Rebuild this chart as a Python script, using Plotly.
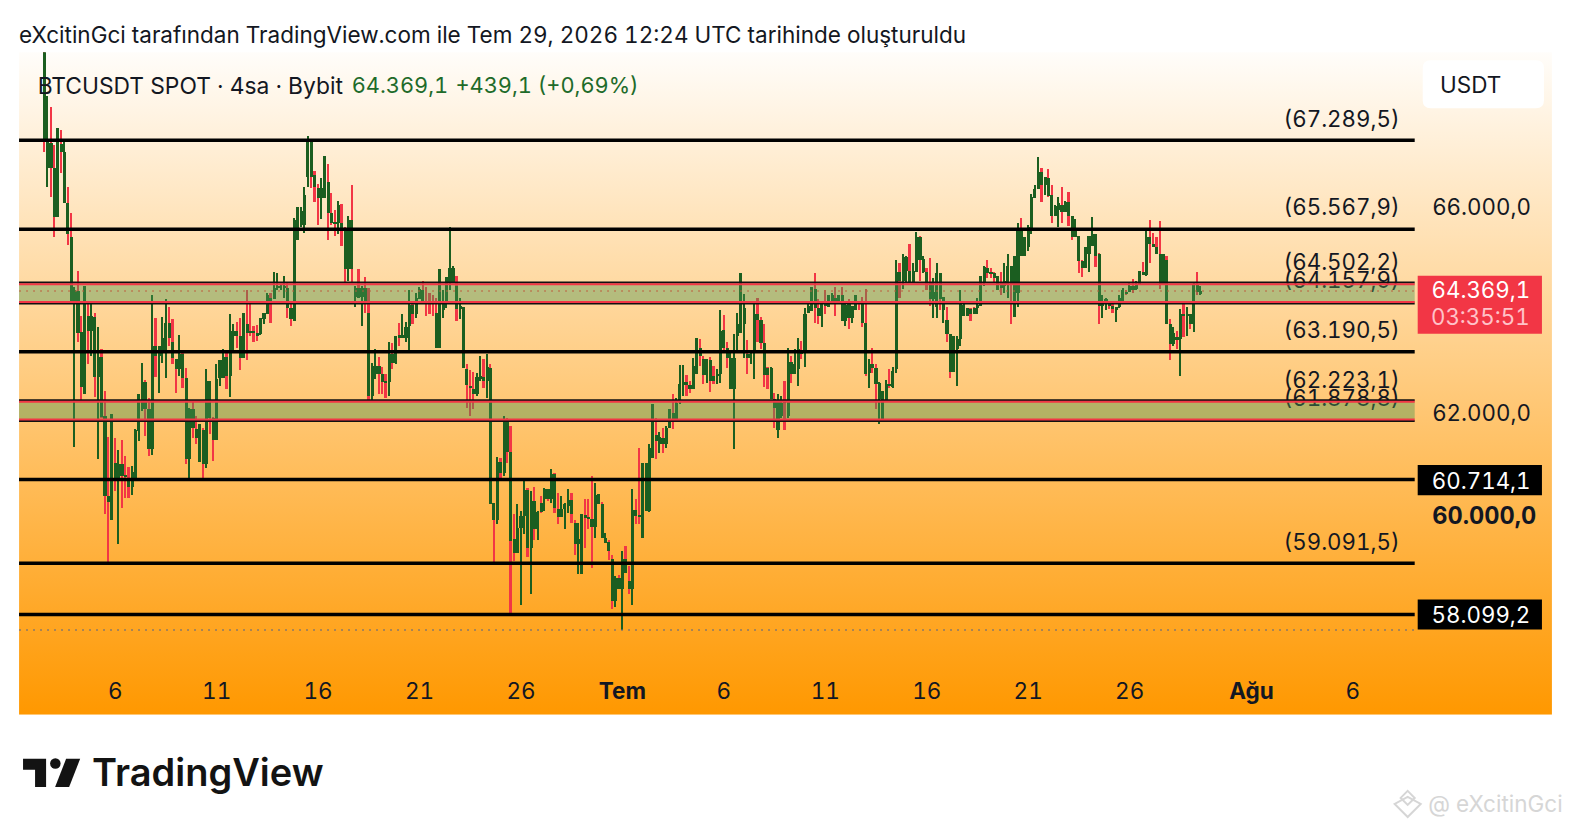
import base64
import pandas as pd
import plotly.graph_objects as go

W, H = 1571, 829

open_ = [69000,66750,67230,66750,65810,67210,66070,66070,65410,64180,64360,63580,62510,63890,63600,63870,62700,63090,61950,60390,
60280,61030,60740,61010,60800,60740,60570,60720,61650,62080,62610,62080,61310,63310,63110,63170,63170,63750,63370,63040,
62860,63150,62690,61110,62080,61690,61520,61670,61010,62630,61910,61480,62690,62690,63090,62720,63500,63600,63500,63070,
63730,63580,63580,63560,63540,63830,63930,64240,64220,64430,64430,64430,64430,64030,63790,65640,65640,65640,66570,67250,
66610,66360,66160,66360,66470,65870,65700,65680,65680,65580,64800,65740,64260,64430,64260,64430,63950,62340,62760,62920,
62760,62630,62610,63150,62980,63520,63460,63460,63680,64100,63930,64220,64380,64180,64180,64180,63950,63270,63990,64180,
64530,64530,64470,64010,62880,62860,62510,62470,62370,62670,62700,62630,62880,60260,59930,61050,60840,61850,61250,59560,
59290,59770,60000,60510,59380,60300,59750,60260,60330,60530,60330,60820,60140,59980,60140,60200,60310,59870,59460,59560,
60020,59970,59950,59790,60240,60240,59480,59500,59170,58350,58800,58600,59170,58740,58600,60120,60020,60000,60100,60100,
61330,61580,61400,61520,61400,61750,62000,61890,62240,62550,62610,62550,62470,62920,63270,63040,62740,63020,62720,62720,
62760,63620,63270,62470,62470,63500,63720,63720,63150,63070,63210,63930,63810,63350,62880,62280,62280,61680,61950,62240,
61950,63000,62760,62860,63230,63230,63950,64030,64410,64030,63890,64140,64180,64180,64240,64180,64280,63790,64120,63850,
64010,64180,64120,63750,62780,62960,62880,62280,62240,62240,62570,62510,62860,64730,64570,64760,64760,64530,64730,65410,
64730,64730,64530,64220,64050,64710,63990,63810,63540,62800,63250,63440,63890,63890,64010,64030,64030,64100,64530,64820,
64730,64710,64470,64550,64470,64510,64860,64320,64320,65560,65050,65210,65580,66160,66340,66670,66420,66550,66220,65830,
65930,66030,65890,66100,65830,65410,65440,64940,64820,65090,65230,65480,65080,64080,64120,64140,64080,63990,64050,64180,
64340,64340,64470,64410,64510,64740,64670,65410,65270,65210,65090,64510,64960,63730,63330,63480,63440,63930,63890,63930,
63730,64510,64300]
high = [69000,68150,67930,67190,67520,67480,67250,66380,65870,64450,64760,63890,64470,64120,64180,63950,63660,63250,62430,61540,
61990,61520,61290,61480,61170,60960,60980,61690,62370,62980,62650,62300,64280,63850,63310,63870,64220,64050,63830,63050,
63520,63210,62880,62100,62260,61950,61790,61710,62860,62630,61930,62960,63020,63250,63230,63930,63730,63770,63850,63950,
64380,64120,63680,63710,63850,63950,64320,64320,64740,64710,64510,64650,64530,64180,65790,65990,65990,66380,67380,67290,
66690,66450,66550,66990,66820,66260,65930,66120,66050,65600,65830,66430,64470,64800,64470,64630,64430,62980,63250,63090,
62900,62760,63380,63360,63500,63750,63930,63770,64380,64120,64320,64450,64570,64450,64320,64280,64240,64800,64380,64630,
65600,64860,64650,64240,64060,62960,62840,62800,62780,63110,63050,63150,62960,60260,61150,61130,61950,61910,61750,60040,
60240,60100,60740,60550,60490,60570,60100,60390,60550,60530,60920,60840,60450,60390,60260,60530,60450,59930,59870,60040,
60330,60330,60780,60640,60430,60280,59670,59540,59250,58840,58860,59320,59420,59030,60530,60330,61330,61030,61030,61400,
62180,61910,61640,61710,61750,62080,62370,62300,62940,62940,62740,62630,63070,63460,63440,63110,63050,63090,62920,62860,
63990,63910,63370,63210,63540,63950,64710,64300,63420,63210,64120,64240,63870,63730,62900,62900,62390,62370,62340,62630,
63270,63110,63250,63460,63400,64030,64180,64450,64710,64220,64180,64380,64280,64320,64450,64280,64450,64120,64220,64080,
64280,64180,64260,64410,63050,63270,62960,62610,62430,62650,62860,62900,64960,64900,65090,65040,65270,64900,65520,65440,
65040,64820,65000,64610,64900,64710,64260,64050,63540,63500,63500,64380,64180,64030,64030,64050,64240,64650,64860,64960,
64820,64730,64650,64730,64900,65090,64860,65040,65680,65790,65420,65640,66240,66420,66960,66750,66570,66730,66420,66030,
66180,66380,66120,66280,65830,65770,65440,64960,65210,65440,65810,65480,65110,64280,64240,64180,64140,64050,64280,64430,
64380,64550,64590,64570,64760,64920,65540,65740,65500,65420,65720,65090,65040,63830,63660,63600,64010,64120,64050,63930,
64550,64730,64470]
low = [67060,66380,66180,65410,65810,66650,66070,65250,64180,61340,63370,62240,62370,62960,63110,62320,61110,61910,60040,59110,
59930,60490,59460,60160,60350,60350,60410,60720,61460,62040,61560,61170,61190,62700,62390,62980,62690,63310,62960,62390,
62720,62490,61010,60740,61520,61400,61050,60740,60940,61600,61070,61480,62530,62690,62470,62320,63210,63270,62840,63070,
63030,63500,63380,63400,63520,63730,63930,63750,64220,64380,64380,64240,63850,63680,63790,65350,65600,65500,66380,66360,
66090,65640,65770,66160,65350,65640,65440,65480,65230,64550,64570,64530,64050,64240,63680,63950,62260,62260,62670,62370,
62370,62300,62340,62860,62960,63310,63460,63370,63210,63720,63850,64220,64180,63890,63930,63890,63270,63270,63850,64030,
64380,64530,63790,63830,62880,62100,61950,62080,62340,62630,62490,62300,60240,59110,59850,60740,60780,61030,58100,59130,
59290,58290,59650,59210,58490,59540,59540,60060,60100,60300,60260,60060,59850,59980,59750,60060,59870,59250,58880,58880,
59380,59750,58990,59580,60240,59580,59480,59150,58200,58240,58600,57790,58900,58490,58290,59850,59850,59580,60100,60080,
61130,61110,61230,61230,61330,61710,61690,61890,62180,62340,62340,62390,62470,62760,62920,62570,62590,62410,62570,62570,
62590,63230,62880,62470,61300,63210,63560,63070,62760,62960,62670,63370,63250,62510,62470,62280,61710,61520,61910,61670,
61910,62590,62760,62530,63050,62900,63950,63970,63750,63730,63660,63930,64060,64140,63890,64120,63790,63680,63640,63750,
63990,63990,63660,62720,62490,62780,62080,61790,61890,62240,62490,62490,62780,64240,64410,64530,64530,64530,64730,64570,
64710,64380,64080,63850,63850,63990,63750,63370,62690,62800,62530,63310,63890,63890,63790,63930,63930,64080,64470,64610,
64610,64530,64380,64280,64320,64240,63730,63870,64060,65040,65050,65150,65480,66160,66340,66090,66220,66180,65680,65830,
65600,65680,65890,65620,65350,65410,64710,64630,64820,64740,65230,64840,63720,63850,63990,64010,63950,63770,64030,64180,
64280,64340,64320,64380,64510,64670,64650,64900,65210,65090,64410,64510,63730,63030,63310,63250,62720,63480,63500,63640,
63580,64280,64280]
close = [67290,67290,66750,65810,67210,67060,67060,65480,64180,64380,63560,62510,63870,63600,63890,62700,63090,61930,60390,60280,
61030,60740,61010,60780,60760,60570,60860,61670,62370,62610,62080,61310,63310,63110,63310,63460,63750,63460,63070,62860,
63150,62690,61110,62080,61710,61520,61690,61010,62630,61910,61480,62670,63020,63090,62720,63600,63600,63500,63070,63730,
63560,63560,63560,63500,63850,63950,64280,64180,64430,64450,64450,64450,64030,63830,65740,65890,65910,66220,67250,66570,
66380,66160,66360,66470,65870,65680,65660,66030,65580,64800,65740,64800,64430,64240,64430,64140,62340,62920,62920,62760,
62610,62590,63150,62980,63500,63460,63520,63660,64100,63930,64240,64410,64180,64140,64140,64120,63270,63990,64180,64630,
64820,64820,64010,64080,64050,62550,62490,62370,62700,62720,62630,62900,60240,59930,61050,60840,61890,61250,59520,59290,
59770,60000,60510,59380,60300,59750,60080,60080,60530,60330,60820,60160,59980,60140,60240,60310,60040,59460,59560,60020,
59970,59950,59790,60410,60410,59580,59580,59320,58350,58800,58600,59170,58900,58600,60120,60000,59980,61030,61030,61330,
61600,61460,61540,61400,61710,61980,61890,62200,62570,62610,62550,62470,62920,63270,63110,62740,63040,62630,62630,62760,
63600,63270,63070,63070,63070,63720,64030,64030,63070,63150,63930,63810,63350,62740,62740,62880,62100,62240,62200,62200,
63000,62760,62960,63250,63150,63930,64080,64410,64030,63890,64120,64080,64240,64280,64180,64280,63790,64100,63850,64080,
64120,64120,63750,62760,62960,62880,62570,62590,62340,62570,62530,62820,64730,64570,65020,65020,64530,64760,65410,64960,
64980,64530,64220,64340,64710,64220,64260,63540,62800,63270,63440,64120,64100,64030,63930,63930,64100,64470,64840,64710,
64710,64610,64610,64430,64570,64860,64510,64860,65560,65040,65230,65600,66180,66340,66670,66420,66570,66200,65830,66010,
66070,65890,66090,65830,65410,65560,64940,64820,65090,65430,65480,65050,64080,64180,64220,64080,64010,64050,64240,64380,
64300,64470,64380,64510,64740,64670,65410,65270,65210,65090,64510,65090,63730,63330,63560,63420,63930,63890,63930,63730,
64510,64340,64369]

first_candle = "2026-06-02 12:00"
x_range = ["2026-06-01 06:13", "2026-08-09 01:11"]

tick_dates = ["2026-06-06","2026-06-11","2026-06-16","2026-06-21","2026-06-26","2026-07-01","2026-07-06",
              "2026-07-11","2026-07-16","2026-07-21","2026-07-26","2026-08-01","2026-08-06"]
tick_text = ["6","11","16","21","26","<b>Tem</b>","6","11","16","21","26","<b>Ağu</b>","6"]
price_ticks = [66000, 62000, 60000]
price_tick_text = ["66.000,0", "62.000,0", "<span style='font-size:23.6px;font-weight:bold'>60.000,0</span>"]

level_values = [67289.5, 65567.9, 64502.2, 64157.9, 63190.5, 62223.1, 61878.8, 59091.5]
level_labels = ["(67.289,5)","(65.567,9)","(64.502,2)","(64.157,9)","(63.190,5)","(62.223,1)","(61.878,8)","(59.091,5)"]
solid_levels = [67289.5, 65567.9, 63190.5, 60714.1, 59091.5, 58099.2]
bands = [(64157.9, 64502.2), (61878.8, 62223.1)]
dotted_levels = [64369.1, 57800]
y_range = [57031, 68999]

FONT = "Inter"
FS = 22.5
NUM_FS = 22.3
INK = "#131722"
GREEN = "#1b5e20"
RED = "#f23645"

def px(x): return x / W
def py(y): return 1 - y / H

dates = pd.date_range(first_candle, periods=len(open_), freq="4h")
FOUR_H = 4 * 3600 * 1000
wick_colors = [RED if o > c else GREEN for o, c in zip(open_, close)]

fig = go.Figure()
fig.add_trace(go.Bar(x=dates, base=low, y=[h - l for h, l in zip(high, low)],
                     width=FOUR_H * 0.5, marker=dict(color=wick_colors, line=dict(width=0)),
                     hoverinfo="skip", name="wick"))
fig.add_trace(go.Bar(x=dates, base=[min(o, c) for o, c in zip(open_, close)],
                     y=[abs(o - c) for o, c in zip(open_, close)],
                     width=FOUR_H * 0.92, marker=dict(color=GREEN, line=dict(width=0)),
                     hoverinfo="skip", name="body"))

shapes = []
LX0, LX1 = px(19), px(1412)

# level captions sit under the bands so the band tints them
for v, t in zip(level_values, level_labels):
    shapes.append(dict(type="line", xref="paper", yref="y", x0=px(1200), x1=px(1397), y0=v, y1=v,
                       line=dict(width=0, color="rgba(0,0,0,0)"),
                       label=dict(text=t, textposition="end", xanchor="right", yanchor="bottom", padding=9,
                                  font=dict(family=FONT, size=NUM_FS, color=INK))))
for lo_v, hi_v in bands:
    shapes.append(dict(type="rect", xref="paper", yref="y", x0=LX0, x1=LX1, y0=lo_v, y1=hi_v,
                       fillcolor="rgba(76,150,80,0.42)", line=dict(width=0)))
    shapes.append(dict(type="line", xref="paper", yref="y", x0=LX0, x1=LX1, y0=hi_v + 30, y1=hi_v + 30,
                       line=dict(color="#111111", width=2)))
    shapes.append(dict(type="line", xref="paper", yref="y", x0=LX0, x1=LX1, y0=lo_v - 30, y1=lo_v - 30,
                       line=dict(color="#111111", width=2)))
    for v in (lo_v, hi_v):
        shapes.append(dict(type="line", xref="paper", yref="y", x0=LX0, x1=LX1, y0=v, y1=v,
                           line=dict(color=RED, width=2)))
for v in solid_levels:
    shapes.append(dict(type="line", xref="paper", yref="y", x0=LX0, x1=LX1, y0=v, y1=v,
                       line=dict(color="#000000", width=3.5)))
for v, c in zip(dotted_levels, ["rgba(190,90,60,0.65)", "rgba(110,110,120,0.8)"]):
    shapes.append(dict(type="line", xref="paper", yref="y", x0=LX0, x1=LX1, y0=v, y1=v,
                       line=dict(color=c, width=1.5, dash="2px,5px")))

def box(x0, y0, x1, y1, color):
    shapes.append(dict(type="rect", xref="paper", yref="paper", x0=px(x0), x1=px(x1), y0=py(y1), y1=py(y0),
                       fillcolor=color, line=dict(width=0)))
box(1415, 464, 1539, 494, "#000000")
box(1415, 598, 1539, 628, "#000000")
box(1415, 275, 1539, 333, RED)

def ppath(points, close_it=True):
    s = "M " + " L ".join(f"{px(a):.5f},{py(b):.5f}" for a, b in points)
    return s + (" Z" if close_it else "")

# USDT rounded box
r = 8
x0, y0, x1, y1 = 1420, 60, 1541, 108
shapes.append(dict(type="path", xref="paper", yref="paper", fillcolor="#ffffff", line=dict(width=0),
    path=(f"M {px(x0+r)},{py(y0)} L {px(x1-r)},{py(y0)} Q {px(x1)},{py(y0)} {px(x1)},{py(y0+r)} "
          f"L {px(x1)},{py(y1-r)} Q {px(x1)},{py(y1)} {px(x1-r)},{py(y1)} L {px(x0+r)},{py(y1)} "
          f"Q {px(x0)},{py(y1)} {px(x0)},{py(y1-r)} L {px(x0)},{py(y0+r)} Q {px(x0)},{py(y0)} {px(x0+r)},{py(y0)} Z")))

# TradingView logo
LOGO = "#131313"
shapes.append(dict(type="path", xref="paper", yref="paper", fillcolor=LOGO, line=dict(width=0),
                   path=ppath([(23,757),(46,757),(46,785),(35,785),(35,768),(23,768)])))
shapes.append(dict(type="circle", xref="paper", yref="paper", fillcolor=LOGO, line=dict(width=0),
                   x0=px(50), x1=px(60.5), y0=py(767), y1=py(756.5)))
shapes.append(dict(type="path", xref="paper", yref="paper", fillcolor=LOGO, line=dict(width=0),
                   path=ppath([(66,757),(80,757),(69,785),(55,785)])))

# faint watermark mark
WM = "#d6d6d6"
for pts in ([(1405,789),(1412,796),(1405,803),(1398,796)],
            [(1405,795),(1418,802),(1405,815),(1392,802)]):
    shapes.append(dict(type="path", xref="paper", yref="paper", line=dict(color=WM, width=2),
                       fillcolor="rgba(0,0,0,0)", path=ppath(pts)))

def note(x, y, text, size=FS, color=INK, anchor="left", weight=None, family=FONT):
    f = dict(family=family, size=size, color=color)
    if weight:
        f["weight"] = weight
    return dict(xref="paper", yref="paper", x=px(x), y=py(y), text=text, showarrow=False,
                xanchor=anchor, yanchor="middle", font=f, borderpad=0, borderwidth=0)

LEG_GREEN = "#1e6b2a"
annotations = [
    note(24, 34, "eXcitinGci tarafından TradingView.com ile Tem 29, 2026 12:24 UTC tarihinde oluşturuldu"),
    note(37, 85, "BTCUSDT SPOT · 4sa · Bybit", 22.8),
    note(356, 85, "64.369,1", 21.8, LEG_GREEN),
    note(460, 85, "+439,1 (+0,69%)", 21.8, LEG_GREEN),
    note(1437, 84, "USDT"),
    note(1478, 479, "60.714,1", NUM_FS, "#ffffff", "center"),
    note(1478, 613, "58.099,2", NUM_FS, "#ffffff", "center"),
    note(1478, 289, "64.369,1", NUM_FS, "#ffffff", "center"),
    note(1478, 316, "03:35:51", NUM_FS, "#ffc2c8", "center"),
    note(92, 770, "TradingView", 38, LOGO, weight=600),
    note(1425, 802, "@ eXcitinGci", 22.5, WM),
]

svg = ('<svg xmlns="http://www.w3.org/2000/svg" width="1530" height="661" viewBox="0 0 1530 661" preserveAspectRatio="none">'
       '<defs><linearGradient id="g" x1="0" y1="0" x2="0" y2="1"><stop offset="0" stop-color="#fffdfa"/>'
       '<stop offset="1" stop-color="#ff9800"/></linearGradient></defs><rect width="1530" height="661" fill="url(#g)"/></svg>')
bg_src = "data:image/svg+xml;base64," + base64.b64encode(svg.encode()).decode()

fig.update_layout(
    width=1574, height=831, autosize=False,
    margin=dict(l=0, r=0, t=0, b=0, pad=0),
    paper_bgcolor="#ffffff", plot_bgcolor="rgba(0,0,0,0)",
    barmode="overlay", bargap=0, showlegend=False,
    font=dict(family=FONT, size=FS, color=INK),
    shapes=shapes, annotations=annotations,
    images=[dict(source=bg_src, xref="paper", yref="paper", x=px(19), y=py(52), sizex=1530 / W, sizey=661 / H,
                 xanchor="left", yanchor="top", sizing="stretch", layer="below")],
    xaxis=dict(domain=[px(19), px(1412)], type="date", range=x_range, tickmode="array",
               tickvals=tick_dates, ticktext=tick_text, showgrid=False, zeroline=False, showline=False,
               ticks="outside", ticklen=1, tickcolor="rgba(0,0,0,0)", tickfont=dict(family=FONT, size=FS, color=INK)),
    yaxis=dict(domain=[py(668), py(52)], range=y_range, side="right", tickmode="array",
               tickvals=price_ticks, ticktext=price_tick_text, showgrid=False, zeroline=False, showline=False,
               ticks="outside", ticklen=12, tickcolor="rgba(0,0,0,0)", tickfont=dict(family=FONT, size=NUM_FS, color=INK)),
)

post = """
document.body.style.margin='0';
document.documentElement.style.overflow='hidden';
var st=document.createElement('style');
st.textContent='svg text{font-variant-numeric:tabular-nums;font-feature-settings:"tnum"}';
document.head.appendChild(st);
Plotly.redraw('{plot_id}');
"""
fig.write_html("out.html", config=dict(displayModeBar=False), post_script=post)
